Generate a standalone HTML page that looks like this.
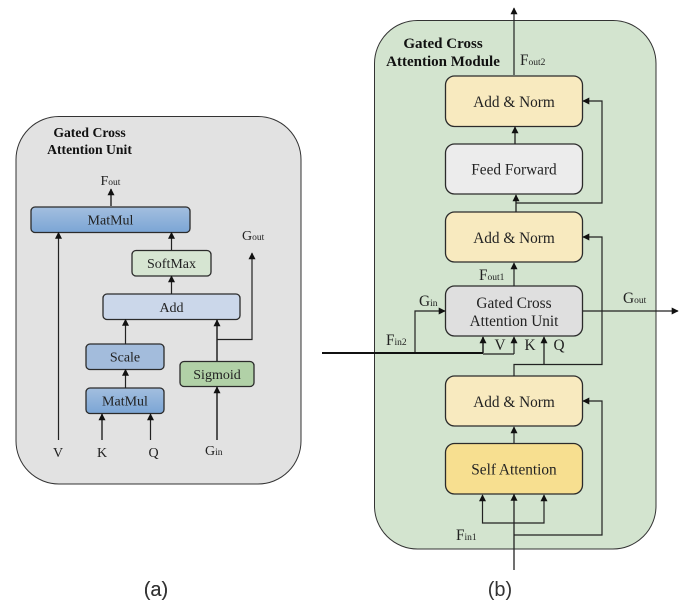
<!DOCTYPE html>
<html><head><meta charset="utf-8"><style>
html,body{margin:0;padding:0;background:#fff}
svg{display:block}
text{font-family:"Liberation Serif",serif;fill:#222}
.b{font-weight:bold;font-size:13.7px;fill:#111}
.b2{font-weight:bold;font-size:15px;fill:#111}
.s{font-size:14px}
.m{font-size:15.300px}
.sm{font-size:9.500px}
.cap{font-family:"Liberation Sans",sans-serif;font-size:20px;fill:#333}
.l{fill:none;stroke:#222;stroke-width:1.200}
.box{stroke:#2b2b2b;stroke-width:1.300}
</style></head><body>
<svg width="685" height="601" viewBox="0 0 685 601" xmlns="http://www.w3.org/2000/svg">
<defs>
<linearGradient id="g1" x1="0" y1="0" x2="0" y2="1"><stop offset="0" stop-color="#a3bfdf"/><stop offset="1" stop-color="#7ba5d5"/></linearGradient>
<marker id="a" viewBox="0 0 10 10" refX="9" refY="5" markerWidth="7" markerHeight="7" orient="auto" markerUnits="userSpaceOnUse"><path d="M0 0L10 5L0 10z" fill="#111"/></marker>
</defs>
<rect x="16" y="116.500" width="285" height="367.500" rx="43" fill="#e2e2e2" stroke="#333" stroke-width="1"/>
<rect x="374.500" y="20.500" width="281.500" height="528.500" rx="43" fill="#d3e4cf" stroke="#333" stroke-width="1"/>

<rect class="box" x="31" y="207" width="159" height="25.500" rx="4" fill="url(#g1)"/>
<rect class="box" x="132" y="250.500" width="79" height="25.500" rx="4" fill="#d6e5d2"/>
<rect class="box" x="103" y="294" width="137" height="25.500" rx="4" fill="#cbd7ea"/>
<rect class="box" x="86" y="344" width="78" height="25.500" rx="4" fill="#a3bcdc"/>
<rect class="box" x="86" y="388" width="78" height="25.500" rx="4" fill="url(#g1)"/>
<rect class="box" x="180" y="361.500" width="74" height="25" rx="4" fill="#b1d1a7"/>

<g class="l">
<path d="M111 206V189" marker-end="url(#a)" stroke-width="1.400"/>
<path d="M58.500 440V232.500" marker-end="url(#a)"/>
<path d="M171.500 250V232.500" marker-end="url(#a)"/>
<path d="M171.500 294V276" marker-end="url(#a)"/>
<path d="M125.500 344V319.500" marker-end="url(#a)"/>
<path d="M125.500 388V369.500" marker-end="url(#a)"/>
<path d="M102 440V414" marker-end="url(#a)" stroke-width="1.400"/>
<path d="M150.500 440V414" marker-end="url(#a)"/>
<path d="M217 361V320" marker-end="url(#a)" stroke-width="1.500"/>
<path d="M217 440V387" marker-end="url(#a)" stroke-width="1.500"/>
<path d="M217 339.500H252V253" marker-end="url(#a)"/>
</g>

<text class="b" x="89.500" y="137" text-anchor="middle">Gated Cross</text>
<text class="b" x="89.500" y="154" text-anchor="middle">Attention Unit</text>
<text class="s" x="100.500" y="185">F<tspan class="sm">out</tspan></text>
<text class="s" x="242" y="240">G<tspan class="sm">out</tspan></text>
<text class="s" x="110.500" y="224.500" text-anchor="middle">MatMul</text>
<text class="s" x="171.500" y="268" text-anchor="middle">SoftMax</text>
<text class="s" x="171.500" y="312" text-anchor="middle">Add</text>
<text class="s" x="125" y="361.500" text-anchor="middle">Scale</text>
<text class="s" x="125" y="405.500" text-anchor="middle">MatMul</text>
<text class="s" x="217" y="379" text-anchor="middle">Sigmoid</text>
<text class="s" x="58" y="457" text-anchor="middle">V</text>
<text class="s" x="102" y="457" text-anchor="middle">K</text>
<text class="s" x="153.500" y="457" text-anchor="middle">Q</text>
<text class="s" x="205" y="455">G<tspan class="sm">in</tspan></text>
<text class="cap" x="156" y="596" text-anchor="middle">(a)</text>

<rect class="box" x="445.500" y="76" width="137" height="50.500" rx="9" fill="#f8eabf"/>
<rect class="box" x="445.500" y="144" width="137" height="50" rx="9" fill="#ececec"/>
<rect class="box" x="445.500" y="212" width="137" height="50" rx="9" fill="#f8eabf"/>
<rect class="box" x="445.500" y="286" width="137" height="50" rx="9" fill="#dfdfdf"/>
<rect class="box" x="445.500" y="376" width="137" height="50" rx="9" fill="#f8eabf"/>
<rect class="box" x="445.500" y="443.500" width="137" height="50.500" rx="9" fill="#f7df90"/>

<g class="l">
<path d="M514 75V8" marker-end="url(#a)"/>
<path d="M515 144V127" marker-end="url(#a)" stroke-width="1.300"/>
<path d="M516 212V195" marker-end="url(#a)" stroke-width="1.300"/>
<path d="M516 203H602V101H583" marker-end="url(#a)"/>
<path d="M514 286V263" marker-end="url(#a)"/>
<path d="M583 311H678" marker-end="url(#a)"/>
<path d="M514 376V364.500H602V237H583" marker-end="url(#a)"/>
<path d="M544 364.500V337" marker-end="url(#a)" stroke-width="1.300"/>
<path d="M514 443V427" marker-end="url(#a)"/>
<path d="M514 570V494.500" marker-end="url(#a)" stroke-width="1.300"/>
<path d="M514 523H482.500V495" marker-end="url(#a)"/>
<path d="M514 523H544V495" marker-end="url(#a)"/>
<path d="M514 535H602V401H583" marker-end="url(#a)"/>
<path d="M415 353V311H445" marker-end="url(#a)"/>
<path d="M483 353V337" marker-end="url(#a)" stroke-width="1.500"/>
<path d="M514 354V337" marker-end="url(#a)"/>
<path d="M483 354H514"/>
<path d="M322 353H483" stroke-width="2" stroke="#111"/>
</g>

<text class="b2" x="443" y="48" text-anchor="middle">Gated Cross</text>
<text class="b2" x="443" y="66" text-anchor="middle">Attention Module</text>
<text class="m" x="520" y="65">F<tspan class="sm">out2</tspan></text>
<text class="m" x="514" y="107" text-anchor="middle">Add &amp; Norm</text>
<text class="m" x="514" y="174.500" text-anchor="middle">Feed Forward</text>
<text class="m" x="514" y="243" text-anchor="middle">Add &amp; Norm</text>
<text class="m" x="514" y="308" text-anchor="middle">Gated Cross</text>
<text class="m" x="514" y="326" text-anchor="middle">Attention Unit</text>
<text class="m" x="514" y="407" text-anchor="middle">Add &amp; Norm</text>
<text class="m" x="514" y="474.500" text-anchor="middle">Self Attention</text>
<text class="m" x="479" y="280">F<tspan class="sm">out1</tspan></text>
<text class="m" x="419" y="306">G<tspan class="sm">in</tspan></text>
<text class="m" x="386" y="345">F<tspan class="sm">in2</tspan></text>
<text class="m" x="500" y="350" text-anchor="middle">V</text>
<text class="m" x="530" y="350" text-anchor="middle">K</text>
<text class="m" x="559" y="350" text-anchor="middle">Q</text>
<text class="m" x="623" y="303">G<tspan class="sm">out</tspan></text>
<text class="m" x="456" y="540">F<tspan class="sm">in1</tspan></text>
<text class="cap" x="156" y="596" text-anchor="middle">(a)</text>
<text class="cap" x="500" y="596" text-anchor="middle">(b)</text>
</svg>
</body></html>
